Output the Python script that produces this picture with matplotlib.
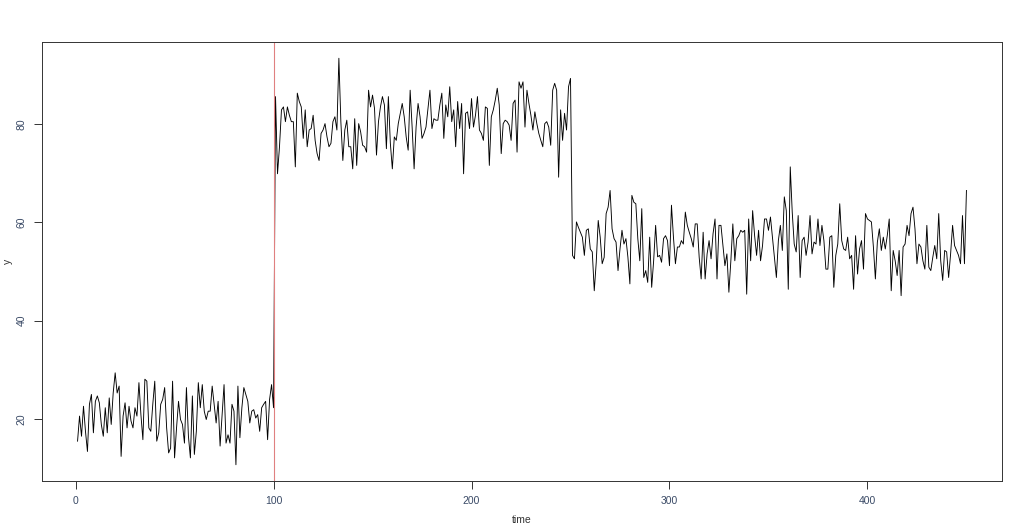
# Time series with a change point at t = 100 (R base-plot look)

import numpy as np
import matplotlib
matplotlib.use('Agg')
import matplotlib.pyplot as plt

# Values, in order t = 1 .. 450
seg_a = [15.5, 20.6, 16.5, 22.6, 17.5, 13.4, 23.0, 25.0, 17.2, 23.6, 24.7, 23.3, 18.9, 16.5, 22.3, 17.2,
         24.3, 18.9, 25.3, 29.4, 25.3, 26.7, 12.4, 20.6, 23.3, 18.2, 22.6, 19.6, 18.2, 22.3, 20.6, 27.4,
         20.9, 15.8, 28.1, 27.7, 18.2, 17.5, 23.0, 27.7, 15.5, 17.2, 23.0, 24.0, 26.4, 18.2, 13.1,
         14.1, 27.7, 12.1, 18.2, 23.6, 19.9, 18.9, 15.1, 26.4, 16.5, 12.1, 24.7, 12.8, 17.5, 27.4, 22.3,
         27.0, 21.6, 19.9, 21.6, 21.6, 26.7, 23.0, 19.2, 23.6, 14.5, 20.9, 27.0, 15.1, 16.8, 15.1, 23.0,
         21.6, 10.7, 26.7, 16.2, 22.3, 26.4, 25.0, 23.6, 19.2, 21.6, 21.9, 20.2, 20.9, 17.5, 22.3, 23.0,
         23.6, 15.8, 24.0, 27.0, 22.3]
seg_b = [85.6, 69.9, 75.4, 82.9, 83.5, 80.5, 83.5, 81.8, 80.5, 80.5, 71.3, 86.3, 84.6, 83.5, 77.1, 82.9,
         75.4, 78.8, 79.1, 81.8, 76.7, 74.0, 72.6, 78.1, 78.8, 80.1, 77.4, 75.4, 76.1, 80.5, 81.5, 78.8,
         93.4, 80.5, 72.6, 78.8, 80.8, 75.4,
         75.4, 70.9, 81.1, 71.6, 80.1, 78.4, 75.7, 75.4, 74.3, 86.9, 83.5, 85.9, 83.2, 73.7, 80.5, 83.5,
         85.6, 83.9, 75.0, 85.6, 76.1, 70.9, 77.4, 76.7, 80.1, 82.2, 84.2, 81.5, 77.4, 74.7, 86.9, 79.4,
         70.9, 79.4, 84.2, 81.5, 77.1, 78.1,
         79.4, 83.2, 86.9, 79.1, 81.1, 80.8, 80.8, 83.9, 86.3, 77.1, 83.9, 81.5, 87.6, 80.5, 82.9, 75.4,
         84.6, 79.1, 84.2, 69.9, 82.2, 82.5, 79.1, 85.2, 79.4, 81.8, 85.6, 78.8, 78.1, 76.7, 83.5, 83.2,
         71.6, 81.5, 82.9, 84.9, 87.3, 83.9,
         74.0, 80.1, 80.8, 80.5, 79.8, 76.7, 84.2, 84.9, 74.3, 88.6, 87.3, 88.6, 79.4, 86.9, 84.2, 81.8,
         78.8, 82.5, 80.1, 78.1, 76.7, 75.4, 80.1, 80.5, 79.4, 75.7, 86.9, 88.3, 86.9, 69.2, 82.9, 76.7,
         82.2, 78.8, 87.6, 89.3]
seg_c = [53.3, 52.6, 60.1, 59.0, 58.0, 57.0, 53.3, 58.4, 58.7, 54.6, 54.0, 46.1, 51.9, 60.4, 57.0, 51.6,
         52.9, 61.8, 63.1, 66.5, 58.7, 56.7, 56.0, 50.2, 54.6, 58.4, 55.6, 56.7, 52.9, 47.5, 65.5, 64.1,
         63.8, 56.7, 52.2, 62.8, 48.8, 50.2, 47.8, 57.0, 46.8, 52.2, 59.4,
         53.0, 53.3, 51.9, 56.7, 57.3, 56.3, 51.2, 63.5, 57.0, 51.6, 55.0, 55.0, 56.3, 55.6, 62.1, 59.4,
         58.0, 56.7, 55.0, 59.7, 59.7, 52.9, 48.5, 58.0, 48.5, 53.6, 56.3, 52.6, 57.7, 60.7, 48.5, 59.4,
         59.4, 55.3, 51.2, 53.6, 45.8, 52.2, 59.7, 52.2, 56.7, 57.3, 58.4,
         58.0, 58.4, 45.4, 60.7, 52.2, 62.4, 57.3, 53.3, 58.4, 52.2, 55.3, 60.7, 60.7, 58.4, 61.1, 57.0,
         52.9, 48.8, 56.3, 59.4, 54.3, 65.2, 62.4, 46.4, 71.3, 62.1, 55.6, 54.0, 61.4, 48.8, 56.3, 57.0,
         53.3, 56.0, 61.4, 53.6, 56.0, 55.6, 60.7, 55.3, 59.4, 56.3, 50.5,
         50.5, 57.0, 57.3, 46.8, 53.3, 55.6, 63.8, 56.3, 54.6, 54.3, 57.0, 52.6, 53.3, 46.4, 57.3, 49.5,
         54.6, 56.3, 50.5, 61.8, 60.7, 60.4, 60.1, 55.0, 48.5, 56.0, 58.7, 54.3, 57.0, 54.6, 57.3, 60.7,
         46.1, 54.3, 52.2, 49.2, 54.3, 45.1, 55.0, 55.6, 59.4, 57.3, 61.8,
         63.1, 58.7, 51.6, 55.6, 55.0, 52.2, 50.5, 59.4, 50.9, 50.2, 52.9, 55.3, 52.6, 61.8, 52.2, 48.2,
         54.3, 54.0, 48.8, 53.6, 59.4, 55.3, 54.3, 53.3, 51.6, 61.4, 51.6, 66.5]

y = np.array(seg_a + seg_b + seg_c)
time = np.arange(1, len(y) + 1)
change_point = 100
x_ticks = [0, 100, 200, 300, 400]
y_ticks = [20, 40, 60, 80]

plt.rcParams['font.family'] = ['Liberation Sans', 'DejaVu Sans']

fig = plt.figure(figsize=(10.24, 5.32), dpi=100)
ax = fig.add_axes([42 / 1024, 51 / 532, 960 / 1024, 439 / 532])

ax.plot(time, y, color='black', linewidth=0.65)
ax.axvline(change_point, color='#e08080', linewidth=0.8)

# R pads the data range by 4% on each side
xr = time.max() - time.min()
yr = y.max() - y.min()
ax.set_xlim(time.min() - 0.04 * xr, time.max() + 0.04 * xr)
ax.set_ylim(y.min() - 0.04 * yr, y.max() + 0.04 * yr)

ax.set_xticks(x_ticks)
ax.set_yticks(y_ticks)
ax.set_yticklabels([str(v) for v in y_ticks], rotation=90, va='center')
ax.tick_params(direction='out', length=6, width=0.7, labelsize=7.5,
               colors='#333333', labelcolor='#3a4a66', pad=5)
for s in ax.spines.values():
    s.set_linewidth(0.7)
    s.set_color('#333333')

ax.set_xlabel('time', fontsize=7.5, color='#333333', labelpad=6)
ax.set_ylabel('y', fontsize=7.5, color='#333333', labelpad=3)

plt.savefig('out.png', dpi=100)
